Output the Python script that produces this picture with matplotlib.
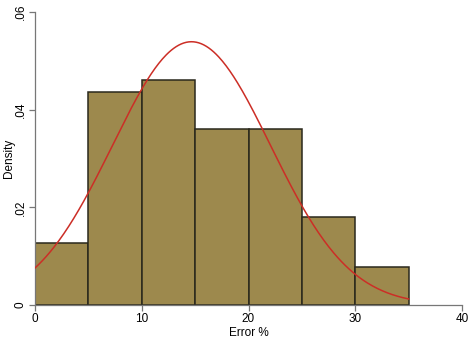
import numpy as np
import matplotlib
matplotlib.use('Agg')
import matplotlib.pyplot as plt

# histogram bins (Error %) and densities
bin_edges = [0, 5, 10, 15, 20, 25, 30, 35]
densities = [0.0127, 0.0436, 0.0461, 0.036, 0.036, 0.018, 0.0078]

# normal density overlay parameters
mu = 14.66
sigma = 7.40

xticks = [0, 10, 20, 30, 40]
yticks = [0, 0.02, 0.04, 0.06]
ytick_labels = ['0', '.02', '.04', '.06']

plt.rcParams['font.family'] = ['Liberation Sans', 'DejaVu Sans']

fig = plt.figure(figsize=(4.7, 3.38), dpi=100)
ax = fig.add_axes([35 / 470, 33 / 338, 427 / 470, 293 / 338])

lefts = bin_edges[:-1]
widths = np.diff(bin_edges)
ax.bar(lefts, densities, width=widths, align='edge', color='#9d894d',
       edgecolor='#2a281c', linewidth=1.1, zorder=2)

xs = np.linspace(bin_edges[0], bin_edges[-1], 300)
pdf = np.exp(-0.5 * ((xs - mu) / sigma) ** 2) / (sigma * np.sqrt(2 * np.pi))
ax.plot(xs, pdf, color='#cc2e26', linewidth=1.1, zorder=3)

ax.set_xlim(0, 40)
ax.set_ylim(0, 0.06)
ax.set_xticks(xticks)
ax.set_yticks(yticks)
ax.set_yticklabels(ytick_labels, rotation=90, va='center')

for side in ['top', 'right']:
    ax.spines[side].set_visible(False)
for side in ['left', 'bottom']:
    ax.spines[side].set_color('#777777')
    ax.spines[side].set_linewidth(0.9)
ax.tick_params(direction='out', length=4, width=0.9, color='#777777',
               labelsize=8.5, pad=2)

ax.set_xlabel('Error %', fontsize=8.5, labelpad=1)
ax.set_ylabel('Density', fontsize=8.5)
ax.yaxis.set_label_coords(-0.047, 0.5)

fig.savefig('out.png', dpi=100)
